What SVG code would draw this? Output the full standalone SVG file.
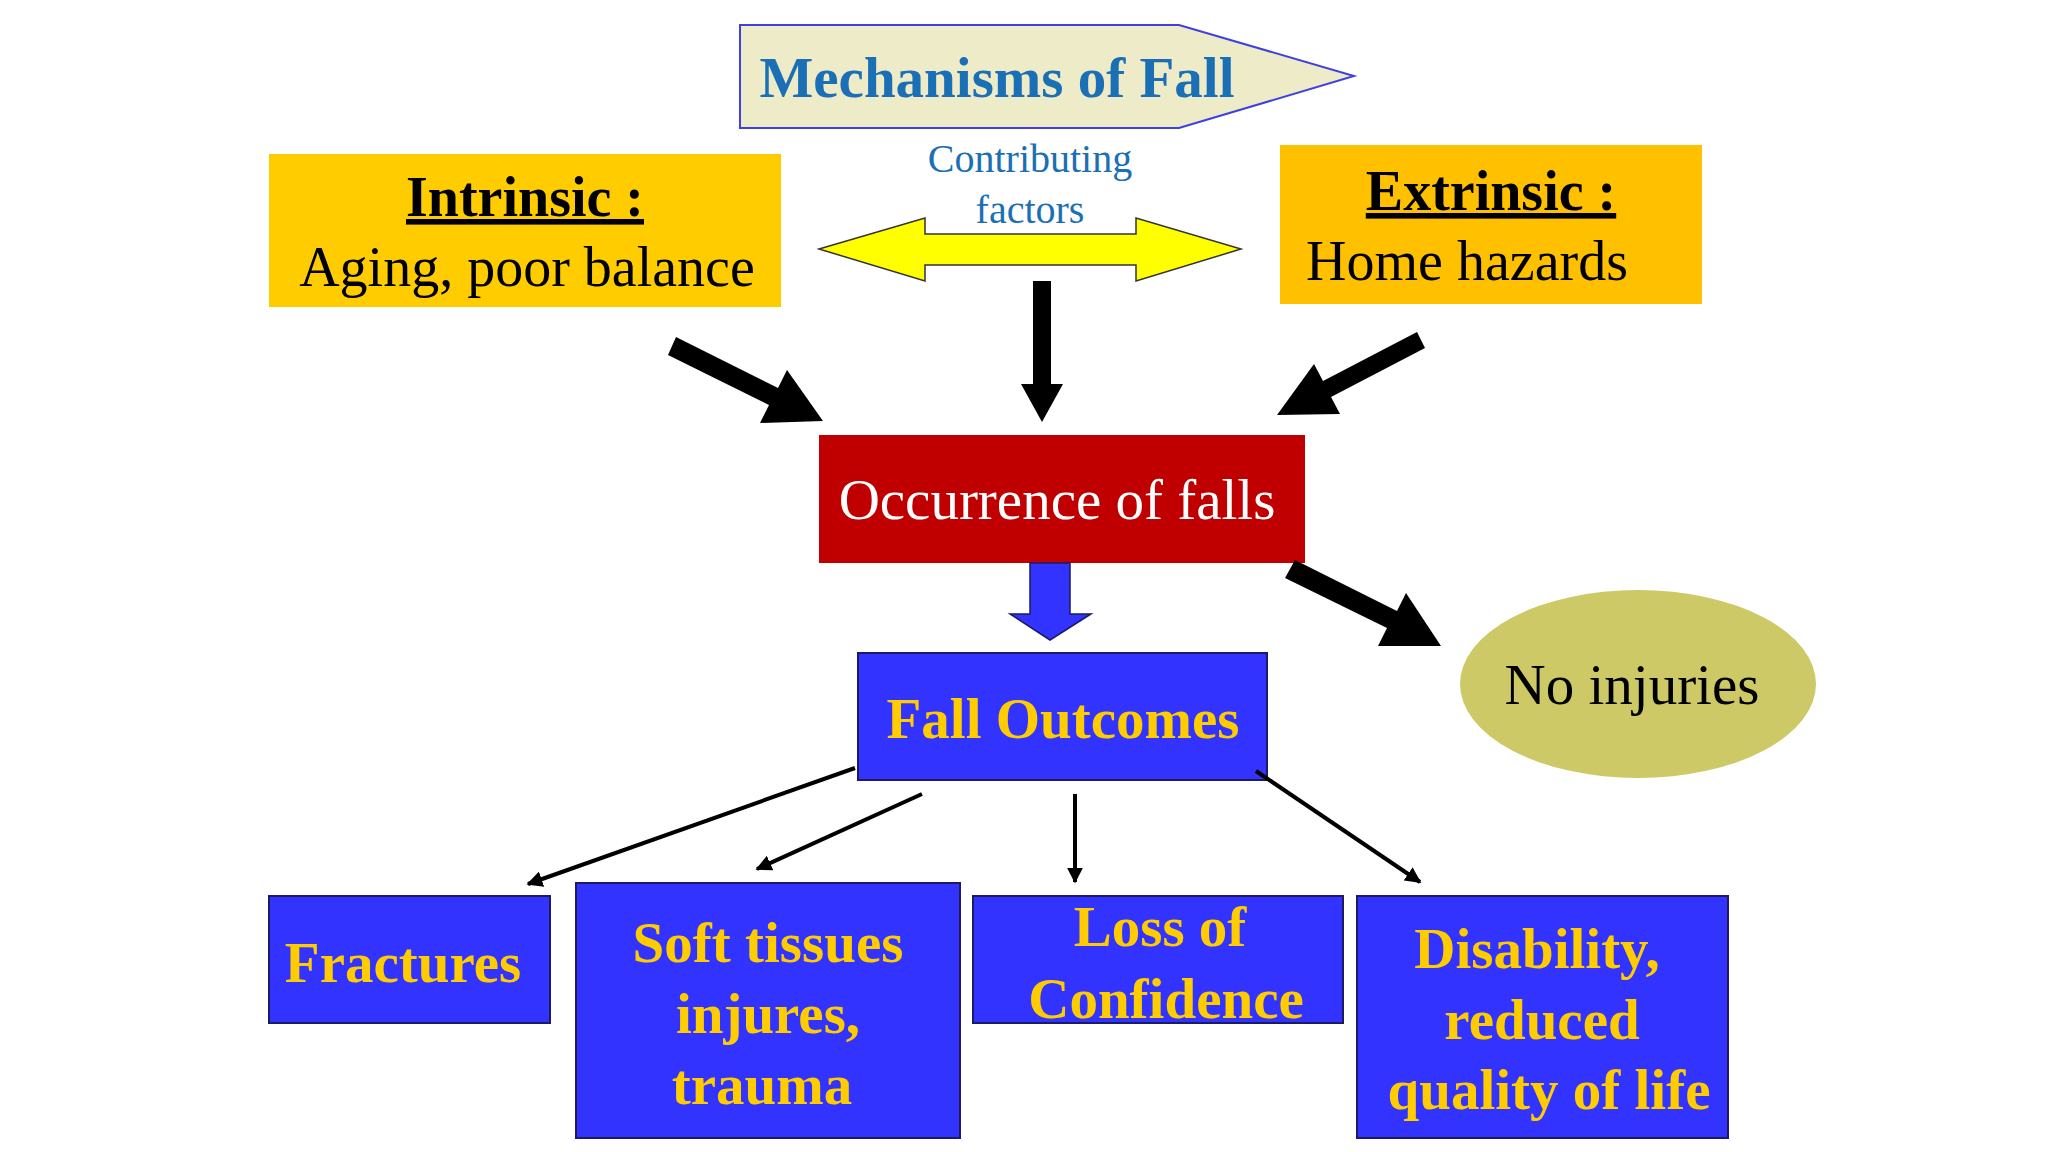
<svg xmlns="http://www.w3.org/2000/svg" width="2048" height="1152" viewBox="0 0 2048 1152">
<defs>
<style>
text{font-family:"Liberation Serif","Times New Roman",serif;text-anchor:middle}
.b{fill:#3333FF;stroke:#1a1a66;stroke-width:2}
.y{fill:#FFCC00;font-weight:bold;font-size:57px}
.k{fill:#000}
.t{stroke:#000;stroke-width:4;fill:none;marker-end:url(#ah)}
</style>
<marker id="ah" viewBox="0 0 10 10" refX="9" refY="5" markerWidth="4" markerHeight="4" orient="auto"><path d="M0,0L10,5L0,10z" fill="#000"/></marker>
</defs>
<rect width="2048" height="1152" fill="#fff"/>
<g id="title">
<path d="M740,25H1179L1354,76L1179,128H740z" fill="#EDEBC8" stroke="#4040E0" stroke-width="2"/>
<text x="997" y="97" font-size="57" font-weight="bold" fill="#1A6FB5">Mechanisms of Fall</text>
</g>
<g id="intrinsic">
<rect x="269" y="154" width="512" height="153" fill="#FFCC00"/>
<text x="525" y="216" font-size="56" font-weight="bold" text-decoration="underline">Intrinsic :</text>
<text x="527" y="286" font-size="56">Aging, poor balance</text>
</g>
<g id="extrinsic">
<rect x="1280" y="145" width="422" height="159" fill="#FFC000"/>
<text x="1491" y="210" font-size="56" font-weight="bold" text-decoration="underline">Extrinsic :</text>
<text x="1467" y="280" font-size="56">Home hazards</text>
</g>
<g id="contrib">
<text x="1030" y="172" font-size="40" fill="#1A6FB5">Contributing</text>
<text x="1030" y="223" font-size="40" fill="#1A6FB5">factors</text>
<path d="M819,249L925,218V234H1136V218L1241,249L1136,281V265H925V281z" fill="#FFFF00" stroke="#333" stroke-width="1.5"/>
</g>
<g id="occurrence">
<rect x="819" y="435" width="486" height="128" fill="#C00000"/>
<text x="1057" y="519" font-size="57" fill="#fff">Occurrence of falls</text>
</g>
<g id="noinj">
<ellipse cx="1638" cy="684" rx="178" ry="94" fill="#CCC966"/>
<text x="1632" y="704" font-size="57">No injuries</text>
</g>
<g id="outcomes">
<rect class="b" x="858" y="653" width="409" height="127"/>
<text class="y" x="1063" y="738">Fall Outcomes</text>
</g>
<g id="fractures">
<rect class="b" x="269" y="896" width="281" height="127"/>
<text class="y" x="403" y="982">Fractures</text>
</g>
<g id="soft">
<rect class="b" x="576" y="883" width="384" height="255"/>
<text class="y" x="768" y="962">Soft tissues</text>
<text class="y" x="768" y="1033">injures,</text>
<text class="y" x="762" y="1104">trauma</text>
</g>
<g id="loss">
<rect class="b" x="973" y="896" width="370" height="127"/>
<text class="y" x="1160" y="946">Loss of</text>
<text class="y" x="1166" y="1018">Confidence</text>
</g>
<g id="disab">
<rect class="b" x="1357" y="896" width="371" height="242"/>
<text class="y" x="1537" y="968">Disability,</text>
<text class="y" x="1542" y="1039">reduced</text>
<text class="y" x="1549" y="1109">quality of life</text>
</g>
<g id="connectors">
<path d="M1033,281H1051V384H1063L1042,422L1021,384H1033z" class="k"/>
<path d="M668,355L676,337L778,388L787,370L823,421L760,423L769,405z" class="k"/>
<path d="M1425,348L1417,332L1323,381L1314,364L1277,415L1340,414L1331,397z" class="k"/>
<path d="M1285,578L1295,560L1397,611L1406,593L1441,646L1378,646L1387,628z" class="k"/>
<path d="M1030,563H1070V614H1091L1050,640L1010,614H1030z" fill="#3333FF" stroke="#1a1a66" stroke-width="1.5"/>
<line class="t" x1="855" y1="768" x2="528" y2="884"/>
<line class="t" x1="922" y1="794" x2="757" y2="869"/>
<line class="t" x1="1075" y1="794" x2="1075" y2="882"/>
<line class="t" x1="1256" y1="771" x2="1420" y2="882"/>
</g>
</svg>
